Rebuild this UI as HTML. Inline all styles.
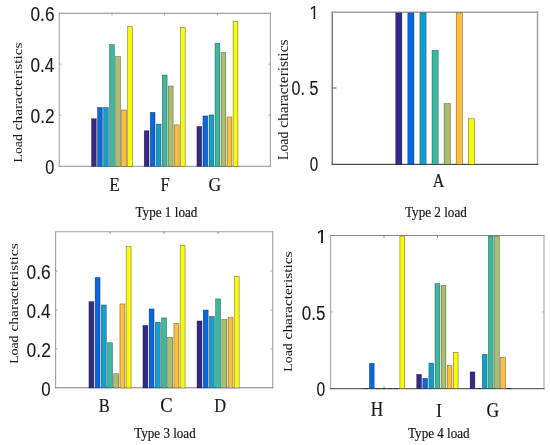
<!DOCTYPE html>
<html><head><meta charset="utf-8"><title>Load characteristics</title>
<style>html,body{margin:0;padding:0;background:#fff}svg{display:block}</style></head>
<body><svg width="550" height="445" viewBox="0 0 550 445">
<rect width="550" height="445" fill="#fff"/>
<defs><clipPath id="c1" clipPathUnits="userSpaceOnUse"><polygon points="14,-150 71,-150 71,6 48,6 48,-22 14,-22"/></clipPath></defs>
<path d="M59.3 12.65V166.85" stroke="#a6a6a6" stroke-width="1.1" fill="none"/>
<path d="M270.4 12.65V166.85" stroke="#a6a6a6" stroke-width="1.1" fill="none"/>
<path d="M58.75 13.2H270.95" stroke="#8e8e8e" stroke-width="1.1" fill="none"/>
<path d="M58.75 166.3H270.95" stroke="#8e8e8e" stroke-width="1.1" fill="none"/>
<path d="M112 166.3v-2.2M112 13.2v2.2" stroke="#8e8e8e" stroke-width="0.9" fill="none"/>
<path d="M164.7 166.3v-2.2M164.7 13.2v2.2" stroke="#8e8e8e" stroke-width="0.9" fill="none"/>
<path d="M217.4 166.3v-2.2M217.4 13.2v2.2" stroke="#8e8e8e" stroke-width="0.9" fill="none"/>
<path d="M59.3 64.2h2.2M270.4 64.2h-2.2" stroke="#a6a6a6" stroke-width="0.9" fill="none"/>
<path d="M59.3 115.3h2.2M270.4 115.3h-2.2" stroke="#a6a6a6" stroke-width="0.9" fill="none"/>
<rect x="91.51" y="118.72" width="4.80" height="47.78" fill="#352a87" stroke="rgba(0,0,0,0.55)" stroke-width="0.55"/>
<rect x="97.54" y="107.48" width="4.80" height="59.02" fill="#0868e0" stroke="rgba(0,0,0,0.55)" stroke-width="0.55"/>
<rect x="103.57" y="107.48" width="4.80" height="59.02" fill="#129fce" stroke="rgba(0,0,0,0.55)" stroke-width="0.55"/>
<rect x="109.60" y="44.63" width="4.80" height="121.87" fill="#3ab9a0" stroke="rgba(0,0,0,0.55)" stroke-width="0.55"/>
<rect x="115.63" y="56.64" width="4.80" height="109.86" fill="#a8bf6d" stroke="rgba(0,0,0,0.55)" stroke-width="0.55"/>
<rect x="121.66" y="110.03" width="4.80" height="56.47" fill="#fcbe3d" stroke="rgba(0,0,0,0.55)" stroke-width="0.55"/>
<rect x="127.69" y="26.61" width="4.80" height="139.89" fill="#f8fa0e" stroke="rgba(0,0,0,0.55)" stroke-width="0.55"/>
<rect x="144.21" y="130.73" width="4.80" height="35.77" fill="#352a87" stroke="rgba(0,0,0,0.55)" stroke-width="0.55"/>
<rect x="150.24" y="112.33" width="4.80" height="54.17" fill="#0868e0" stroke="rgba(0,0,0,0.55)" stroke-width="0.55"/>
<rect x="156.27" y="124.09" width="4.80" height="42.41" fill="#129fce" stroke="rgba(0,0,0,0.55)" stroke-width="0.55"/>
<rect x="162.30" y="75.03" width="4.80" height="91.47" fill="#3ab9a0" stroke="rgba(0,0,0,0.55)" stroke-width="0.55"/>
<rect x="168.33" y="86.02" width="4.80" height="80.48" fill="#a8bf6d" stroke="rgba(0,0,0,0.55)" stroke-width="0.55"/>
<rect x="174.36" y="124.85" width="4.80" height="41.65" fill="#fcbe3d" stroke="rgba(0,0,0,0.55)" stroke-width="0.55"/>
<rect x="180.39" y="27.64" width="4.80" height="138.86" fill="#f8fa0e" stroke="rgba(0,0,0,0.55)" stroke-width="0.55"/>
<rect x="196.91" y="126.39" width="4.80" height="40.11" fill="#352a87" stroke="rgba(0,0,0,0.55)" stroke-width="0.55"/>
<rect x="202.94" y="115.91" width="4.80" height="50.59" fill="#0868e0" stroke="rgba(0,0,0,0.55)" stroke-width="0.55"/>
<rect x="208.97" y="114.89" width="4.80" height="51.61" fill="#129fce" stroke="rgba(0,0,0,0.55)" stroke-width="0.55"/>
<rect x="215.00" y="43.35" width="4.80" height="123.15" fill="#3ab9a0" stroke="rgba(0,0,0,0.55)" stroke-width="0.55"/>
<rect x="221.03" y="52.67" width="4.80" height="113.83" fill="#a8bf6d" stroke="rgba(0,0,0,0.55)" stroke-width="0.55"/>
<rect x="227.06" y="116.93" width="4.80" height="49.57" fill="#fcbe3d" stroke="rgba(0,0,0,0.55)" stroke-width="0.55"/>
<rect x="233.09" y="21.63" width="4.80" height="144.87" fill="#f8fa0e" stroke="rgba(0,0,0,0.55)" stroke-width="0.55"/>
<text font-family='"Liberation Sans", Arial, Helvetica, sans-serif' font-size="200" fill="#1a1a1a" stroke="#1a1a1a" stroke-width="0.12" vector-effect="non-scaling-stroke" transform="translate(30.51,21.10) scale(0.08626,0.10357)" xml:space="preserve">0.6</text>
<text font-family='"Liberation Sans", Arial, Helvetica, sans-serif' font-size="200" fill="#1a1a1a" stroke="#1a1a1a" stroke-width="0.12" vector-effect="non-scaling-stroke" transform="translate(30.52,72.10) scale(0.08561,0.10357)" xml:space="preserve">0.4</text>
<text font-family='"Liberation Sans", Arial, Helvetica, sans-serif' font-size="200" fill="#1a1a1a" stroke="#1a1a1a" stroke-width="0.12" vector-effect="non-scaling-stroke" transform="translate(30.50,123.10) scale(0.08692,0.10357)" xml:space="preserve">0.2</text>
<text font-family='"Liberation Sans", Arial, Helvetica, sans-serif' font-size="200" fill="#1a1a1a" stroke="#1a1a1a" stroke-width="0.12" vector-effect="non-scaling-stroke" transform="translate(45.35,174.40) scale(0.08125,0.10286)" xml:space="preserve">0</text>
<text font-family='"Liberation Serif", "Times New Roman", Times, serif' font-size="200" fill="#1a1a1a" stroke="#1a1a1a" stroke-width="0.3" vector-effect="non-scaling-stroke" transform="translate(22.40,162.45) rotate(-90) scale(0.07475,0.06259)"><tspan x="0" textLength="377.5" lengthAdjust="spacingAndGlyphs">Load</tspan> <tspan x="430.2" textLength="1174.5" lengthAdjust="spacingAndGlyphs">characteristics</tspan></text>
<text font-family='"Liberation Serif", "Times New Roman", Times, serif' font-size="200" fill="#1a1a1a" stroke="#1a1a1a" stroke-width="0.2" vector-effect="non-scaling-stroke" transform="translate(109.18,190.60) scale(0.08679,0.09695)" xml:space="preserve">E</text>
<text font-family='"Liberation Serif", "Times New Roman", Times, serif' font-size="200" fill="#1a1a1a" stroke="#1a1a1a" stroke-width="0.2" vector-effect="non-scaling-stroke" transform="translate(160.60,190.50) scale(0.08265,0.09618)" xml:space="preserve">F</text>
<text font-family='"Liberation Serif", "Times New Roman", Times, serif' font-size="200" fill="#1a1a1a" stroke="#1a1a1a" stroke-width="0.2" vector-effect="non-scaling-stroke" transform="translate(208.60,190.80) scale(0.08769,0.09848)" xml:space="preserve">G</text>
<text font-family='"Liberation Serif", "Times New Roman", Times, serif' font-size="200" fill="#1a1a1a" stroke="#1a1a1a" stroke-width="0.2" vector-effect="non-scaling-stroke" transform="translate(135.44,217.00) scale(0.06588,0.07266)" xml:space="preserve">Type 1 load</text>
<path d="M332.2 11.55V164.95" stroke="#4c4c4c" stroke-width="1.1" fill="none"/>
<path d="M537.5 11.55V164.95" stroke="#a2a2a2" stroke-width="1.5" fill="none"/>
<path d="M331.65 12.3H538.25" stroke="#a2a2a2" stroke-width="1.5" fill="none"/>
<path d="M331.65 164.4H538.25" stroke="#4c4c4c" stroke-width="1.1" fill="none"/>
<path d="M435.3 164.4v-4.4" stroke="#4c4c4c" stroke-width="0.9" fill="none"/>
<path d="M332.2 88.0h4.4" stroke="#4c4c4c" stroke-width="0.9" fill="none"/>
<rect x="395.70" y="12.90" width="6.20" height="151.50" fill="#352a87" stroke="rgba(0,0,0,0.55)" stroke-width="0.55"/>
<rect x="407.80" y="12.90" width="6.20" height="151.50" fill="#0868e0" stroke="rgba(0,0,0,0.55)" stroke-width="0.55"/>
<rect x="419.90" y="12.90" width="6.20" height="151.50" fill="#129fce" stroke="rgba(0,0,0,0.55)" stroke-width="0.55"/>
<rect x="432.00" y="50.33" width="6.20" height="114.07" fill="#3ab9a0" stroke="rgba(0,0,0,0.55)" stroke-width="0.55"/>
<rect x="444.10" y="103.56" width="6.20" height="60.84" fill="#a8bf6d" stroke="rgba(0,0,0,0.55)" stroke-width="0.55"/>
<rect x="456.20" y="12.90" width="6.20" height="151.50" fill="#fcbe3d" stroke="rgba(0,0,0,0.55)" stroke-width="0.55"/>
<rect x="468.30" y="118.77" width="6.20" height="45.63" fill="#f8fa0e" stroke="rgba(0,0,0,0.55)" stroke-width="0.55"/>
<text font-family='"Liberation Sans", Arial, Helvetica, sans-serif' font-size="200" fill="#1a1a1a" stroke="#1a1a1a" stroke-width="0.12" vector-effect="non-scaling-stroke" clip-path="url(#c1)" transform="translate(309.19,19.00) scale(0.08980,0.09130)">1</text>
<text font-family='"Liberation Sans", Arial, Helvetica, sans-serif' font-size="200" fill="#1a1a1a" stroke="#1a1a1a" stroke-width="0.12" vector-effect="non-scaling-stroke" transform="translate(291.56,95.40) scale(0.08044,0.10000)" xml:space="preserve">0. 5</text>
<text font-family='"Liberation Sans", Arial, Helvetica, sans-serif' font-size="200" fill="#1a1a1a" stroke="#1a1a1a" stroke-width="0.12" vector-effect="non-scaling-stroke" transform="translate(309.69,171.00) scale(0.07604,0.09714)" xml:space="preserve">0</text>
<text font-family='"Liberation Serif", "Times New Roman", Times, serif' font-size="200" fill="#1a1a1a" stroke="#1a1a1a" stroke-width="0.3" vector-effect="non-scaling-stroke" transform="translate(287.60,160.05) rotate(-90) scale(0.07513,0.06906)"><tspan x="0" textLength="377.7" lengthAdjust="spacingAndGlyphs">Load</tspan> <tspan x="430.3" textLength="1174.3" lengthAdjust="spacingAndGlyphs">characteristics</tspan></text>
<text font-family='"Liberation Serif", "Times New Roman", Times, serif' font-size="200" fill="#1a1a1a" stroke="#1a1a1a" stroke-width="0.2" vector-effect="non-scaling-stroke" transform="translate(432.84,187.00) scale(0.08014,0.09621)" xml:space="preserve">A</text>
<text font-family='"Liberation Serif", "Times New Roman", Times, serif' font-size="200" fill="#1a1a1a" stroke="#1a1a1a" stroke-width="0.2" vector-effect="non-scaling-stroke" transform="translate(404.94,216.90) scale(0.06588,0.07482)" xml:space="preserve">Type 2 load</text>
<path d="M55.6 231.15V388.25" stroke="#a0a0a0" stroke-width="1.1" fill="none"/>
<path d="M272.7 231.15V388.25" stroke="#a0a0a0" stroke-width="1.1" fill="none"/>
<path d="M55.05 231.7H273.25" stroke="#a0a0a0" stroke-width="1.1" fill="none"/>
<path d="M55.05 387.7H273.25" stroke="#7c7c7c" stroke-width="1.1" fill="none"/>
<path d="M110 387.7v-2.2M110 231.7v2.2" stroke="#7c7c7c" stroke-width="0.9" fill="none"/>
<path d="M164.0 387.7v-2.2M164.0 231.7v2.2" stroke="#7c7c7c" stroke-width="0.9" fill="none"/>
<path d="M218.1 387.7v-2.2M218.1 231.7v2.2" stroke="#7c7c7c" stroke-width="0.9" fill="none"/>
<path d="M55.6 271.0h2.2M272.7 271.0h-2.2" stroke="#a0a0a0" stroke-width="0.9" fill="none"/>
<path d="M55.6 310.0h2.2M272.7 310.0h-2.2" stroke="#a0a0a0" stroke-width="0.9" fill="none"/>
<path d="M55.6 349.0h2.2M272.7 349.0h-2.2" stroke="#a0a0a0" stroke-width="0.9" fill="none"/>
<rect x="88.93" y="301.62" width="4.95" height="86.39" fill="#352a87" stroke="rgba(0,0,0,0.55)" stroke-width="0.55"/>
<rect x="95.12" y="277.44" width="4.95" height="110.56" fill="#0868e0" stroke="rgba(0,0,0,0.55)" stroke-width="0.55"/>
<rect x="101.33" y="304.93" width="4.95" height="83.07" fill="#129fce" stroke="rgba(0,0,0,0.55)" stroke-width="0.55"/>
<rect x="107.53" y="342.76" width="4.95" height="45.24" fill="#3ab9a0" stroke="rgba(0,0,0,0.55)" stroke-width="0.55"/>
<rect x="113.73" y="373.76" width="4.95" height="14.24" fill="#a8bf6d" stroke="rgba(0,0,0,0.55)" stroke-width="0.55"/>
<rect x="119.93" y="303.95" width="4.95" height="84.05" fill="#fcbe3d" stroke="rgba(0,0,0,0.55)" stroke-width="0.55"/>
<rect x="126.12" y="246.63" width="4.95" height="141.37" fill="#f8fa0e" stroke="rgba(0,0,0,0.55)" stroke-width="0.55"/>
<rect x="142.93" y="325.40" width="4.95" height="62.59" fill="#352a87" stroke="rgba(0,0,0,0.55)" stroke-width="0.55"/>
<rect x="149.12" y="308.93" width="4.95" height="79.07" fill="#0868e0" stroke="rgba(0,0,0,0.55)" stroke-width="0.55"/>
<rect x="155.33" y="322.28" width="4.95" height="65.72" fill="#129fce" stroke="rgba(0,0,0,0.55)" stroke-width="0.55"/>
<rect x="161.53" y="317.90" width="4.95" height="70.10" fill="#3ab9a0" stroke="rgba(0,0,0,0.55)" stroke-width="0.55"/>
<rect x="167.72" y="337.30" width="4.95" height="50.70" fill="#a8bf6d" stroke="rgba(0,0,0,0.55)" stroke-width="0.55"/>
<rect x="173.93" y="323.45" width="4.95" height="64.55" fill="#fcbe3d" stroke="rgba(0,0,0,0.55)" stroke-width="0.55"/>
<rect x="180.12" y="245.46" width="4.95" height="142.54" fill="#f8fa0e" stroke="rgba(0,0,0,0.55)" stroke-width="0.55"/>
<rect x="197.03" y="320.92" width="4.95" height="67.08" fill="#352a87" stroke="rgba(0,0,0,0.55)" stroke-width="0.55"/>
<rect x="203.22" y="310.00" width="4.95" height="78.00" fill="#0868e0" stroke="rgba(0,0,0,0.55)" stroke-width="0.55"/>
<rect x="209.43" y="316.44" width="4.95" height="71.56" fill="#129fce" stroke="rgba(0,0,0,0.55)" stroke-width="0.55"/>
<rect x="215.62" y="298.88" width="4.95" height="89.11" fill="#3ab9a0" stroke="rgba(0,0,0,0.55)" stroke-width="0.55"/>
<rect x="221.82" y="319.56" width="4.95" height="68.44" fill="#a8bf6d" stroke="rgba(0,0,0,0.55)" stroke-width="0.55"/>
<rect x="228.03" y="317.51" width="4.95" height="70.49" fill="#fcbe3d" stroke="rgba(0,0,0,0.55)" stroke-width="0.55"/>
<rect x="234.22" y="276.66" width="4.95" height="111.34" fill="#f8fa0e" stroke="rgba(0,0,0,0.55)" stroke-width="0.55"/>
<text font-family='"Liberation Sans", Arial, Helvetica, sans-serif' font-size="200" fill="#1a1a1a" stroke="#1a1a1a" stroke-width="0.12" vector-effect="non-scaling-stroke" transform="translate(26.61,278.70) scale(0.08664,0.10429)" xml:space="preserve">0.6</text>
<text font-family='"Liberation Sans", Arial, Helvetica, sans-serif' font-size="200" fill="#1a1a1a" stroke="#1a1a1a" stroke-width="0.12" vector-effect="non-scaling-stroke" transform="translate(26.61,317.70) scale(0.08598,0.10429)" xml:space="preserve">0.4</text>
<text font-family='"Liberation Sans", Arial, Helvetica, sans-serif' font-size="200" fill="#1a1a1a" stroke="#1a1a1a" stroke-width="0.12" vector-effect="non-scaling-stroke" transform="translate(26.60,356.80) scale(0.08731,0.10429)" xml:space="preserve">0.2</text>
<text font-family='"Liberation Sans", Arial, Helvetica, sans-serif' font-size="200" fill="#1a1a1a" stroke="#1a1a1a" stroke-width="0.12" vector-effect="non-scaling-stroke" transform="translate(41.23,395.80) scale(0.08438,0.10286)" xml:space="preserve">0</text>
<text font-family='"Liberation Serif", "Times New Roman", Times, serif' font-size="200" fill="#1a1a1a" stroke="#1a1a1a" stroke-width="0.3" vector-effect="non-scaling-stroke" transform="translate(17.60,363.85) rotate(-90) scale(0.07513,0.06547)"><tspan x="0" textLength="377.7" lengthAdjust="spacingAndGlyphs">Load</tspan> <tspan x="430.3" textLength="1174.3" lengthAdjust="spacingAndGlyphs">characteristics</tspan></text>
<text font-family='"Liberation Serif", "Times New Roman", Times, serif' font-size="200" fill="#1a1a1a" stroke="#1a1a1a" stroke-width="0.2" vector-effect="non-scaling-stroke" transform="translate(98.81,411.60) scale(0.08220,0.09924)" xml:space="preserve">B</text>
<text font-family='"Liberation Serif", "Times New Roman", Times, serif' font-size="200" fill="#1a1a1a" stroke="#1a1a1a" stroke-width="0.2" vector-effect="non-scaling-stroke" transform="translate(160.16,412.00) scale(0.09298,0.10530)" xml:space="preserve">C</text>
<text font-family='"Liberation Serif", "Times New Roman", Times, serif' font-size="200" fill="#1a1a1a" stroke="#1a1a1a" stroke-width="0.2" vector-effect="non-scaling-stroke" transform="translate(214.31,412.00) scale(0.08168,0.09618)" xml:space="preserve">D</text>
<text font-family='"Liberation Serif", "Times New Roman", Times, serif' font-size="200" fill="#1a1a1a" stroke="#1a1a1a" stroke-width="0.2" vector-effect="non-scaling-stroke" transform="translate(134.14,438.20) scale(0.06545,0.07626)" xml:space="preserve">Type 3 load</text>
<path d="M330.6 234.95V389.15" stroke="#a6a6a6" stroke-width="1.1" fill="none"/>
<path d="M544.0 234.95V389.15" stroke="#a6a6a6" stroke-width="1.1" fill="none"/>
<path d="M330.05 235.5H544.55" stroke="#8a8a8a" stroke-width="1.1" fill="none"/>
<path d="M330.05 388.6H544.55" stroke="#666" stroke-width="1.1" fill="none"/>
<path d="M384 388.6v-2.2M384 235.5v2.2" stroke="#666" stroke-width="0.9" fill="none"/>
<path d="M437.4 388.6v-2.2M437.4 235.5v2.2" stroke="#666" stroke-width="0.9" fill="none"/>
<path d="M490.8 388.6v-2.2M490.8 235.5v2.2" stroke="#666" stroke-width="0.9" fill="none"/>
<path d="M330.6 311.9h2.2M544.0 311.9h-2.2" stroke="#a6a6a6" stroke-width="0.9" fill="none"/>
<path d="M363.30 388.6h4.80" stroke="rgba(0,0,0,0.5)" stroke-width="1" fill="none"/>
<rect x="369.40" y="363.34" width="4.80" height="25.26" fill="#0868e0" stroke="rgba(0,0,0,0.55)" stroke-width="0.55"/>
<path d="M375.50 388.6h4.80" stroke="rgba(0,0,0,0.5)" stroke-width="1" fill="none"/>
<path d="M381.60 388.6h4.80" stroke="rgba(0,0,0,0.5)" stroke-width="1" fill="none"/>
<path d="M387.70 388.6h4.80" stroke="rgba(0,0,0,0.5)" stroke-width="1" fill="none"/>
<path d="M393.80 388.6h4.80" stroke="rgba(0,0,0,0.5)" stroke-width="1" fill="none"/>
<rect x="399.90" y="236.10" width="4.80" height="152.50" fill="#f8fa0e" stroke="rgba(0,0,0,0.55)" stroke-width="0.55"/>
<rect x="416.70" y="374.36" width="4.80" height="14.24" fill="#352a87" stroke="rgba(0,0,0,0.55)" stroke-width="0.55"/>
<rect x="422.80" y="378.34" width="4.80" height="10.26" fill="#0868e0" stroke="rgba(0,0,0,0.55)" stroke-width="0.55"/>
<rect x="428.90" y="363.03" width="4.80" height="25.57" fill="#129fce" stroke="rgba(0,0,0,0.55)" stroke-width="0.55"/>
<rect x="435.00" y="283.57" width="4.80" height="105.03" fill="#3ab9a0" stroke="rgba(0,0,0,0.55)" stroke-width="0.55"/>
<rect x="441.10" y="285.41" width="4.80" height="103.19" fill="#a8bf6d" stroke="rgba(0,0,0,0.55)" stroke-width="0.55"/>
<rect x="447.20" y="365.63" width="4.80" height="22.97" fill="#fcbe3d" stroke="rgba(0,0,0,0.55)" stroke-width="0.55"/>
<rect x="453.30" y="352.32" width="4.80" height="36.28" fill="#f8fa0e" stroke="rgba(0,0,0,0.55)" stroke-width="0.55"/>
<rect x="470.10" y="371.91" width="4.80" height="16.69" fill="#352a87" stroke="rgba(0,0,0,0.55)" stroke-width="0.55"/>
<path d="M476.20 388.6h4.80" stroke="rgba(0,0,0,0.5)" stroke-width="1" fill="none"/>
<rect x="482.30" y="354.31" width="4.80" height="34.29" fill="#129fce" stroke="rgba(0,0,0,0.55)" stroke-width="0.55"/>
<rect x="488.40" y="236.10" width="4.80" height="152.50" fill="#3ab9a0" stroke="rgba(0,0,0,0.55)" stroke-width="0.55"/>
<rect x="494.50" y="236.10" width="4.80" height="152.50" fill="#a8bf6d" stroke="rgba(0,0,0,0.55)" stroke-width="0.55"/>
<rect x="500.60" y="357.52" width="4.80" height="31.08" fill="#fcbe3d" stroke="rgba(0,0,0,0.55)" stroke-width="0.55"/>
<path d="M506.70 388.6h4.80" stroke="rgba(0,0,0,0.5)" stroke-width="1" fill="none"/>
<text font-family='"Liberation Sans", Arial, Helvetica, sans-serif' font-size="200" fill="#1a1a1a" stroke="#1a1a1a" stroke-width="0.12" vector-effect="non-scaling-stroke" clip-path="url(#c1)" transform="translate(315.96,243.20) scale(0.10204,0.09565)">1</text>
<text font-family='"Liberation Sans", Arial, Helvetica, sans-serif' font-size="200" fill="#1a1a1a" stroke="#1a1a1a" stroke-width="0.12" vector-effect="non-scaling-stroke" transform="translate(301.72,320.40) scale(0.08511,0.10286)" xml:space="preserve">0.5</text>
<text font-family='"Liberation Sans", Arial, Helvetica, sans-serif' font-size="200" fill="#1a1a1a" stroke="#1a1a1a" stroke-width="0.12" vector-effect="non-scaling-stroke" transform="translate(316.38,396.40) scale(0.07812,0.10286)" xml:space="preserve">0</text>
<text font-family='"Liberation Serif", "Times New Roman", Times, serif' font-size="200" fill="#1a1a1a" stroke="#1a1a1a" stroke-width="0.3" vector-effect="non-scaling-stroke" transform="translate(292.40,371.65) rotate(-90) scale(0.07494,0.06547)"><tspan x="0" textLength="377.6" lengthAdjust="spacingAndGlyphs">Load</tspan> <tspan x="430.2" textLength="1174.4" lengthAdjust="spacingAndGlyphs">characteristics</tspan></text>
<text font-family='"Liberation Serif", "Times New Roman", Times, serif' font-size="200" fill="#1a1a1a" stroke="#1a1a1a" stroke-width="0.2" vector-effect="non-scaling-stroke" transform="translate(370.79,416.40) scale(0.08571,0.10153)" xml:space="preserve">H</text>
<text font-family='"Liberation Serif", "Times New Roman", Times, serif' font-size="200" fill="#1a1a1a" stroke="#1a1a1a" stroke-width="0.2" vector-effect="non-scaling-stroke" transform="translate(435.97,416.50) scale(0.09057,0.09924)" xml:space="preserve">I</text>
<text font-family='"Liberation Serif", "Times New Roman", Times, serif' font-size="200" fill="#1a1a1a" stroke="#1a1a1a" stroke-width="0.2" vector-effect="non-scaling-stroke" transform="translate(486.40,417.00) scale(0.08769,0.10758)" xml:space="preserve">G</text>
<text font-family='"Liberation Serif", "Times New Roman", Times, serif' font-size="200" fill="#1a1a1a" stroke="#1a1a1a" stroke-width="0.2" vector-effect="non-scaling-stroke" transform="translate(408.04,438.20) scale(0.06535,0.07266)" xml:space="preserve">Type 4 load</text>
</svg></body></html>
